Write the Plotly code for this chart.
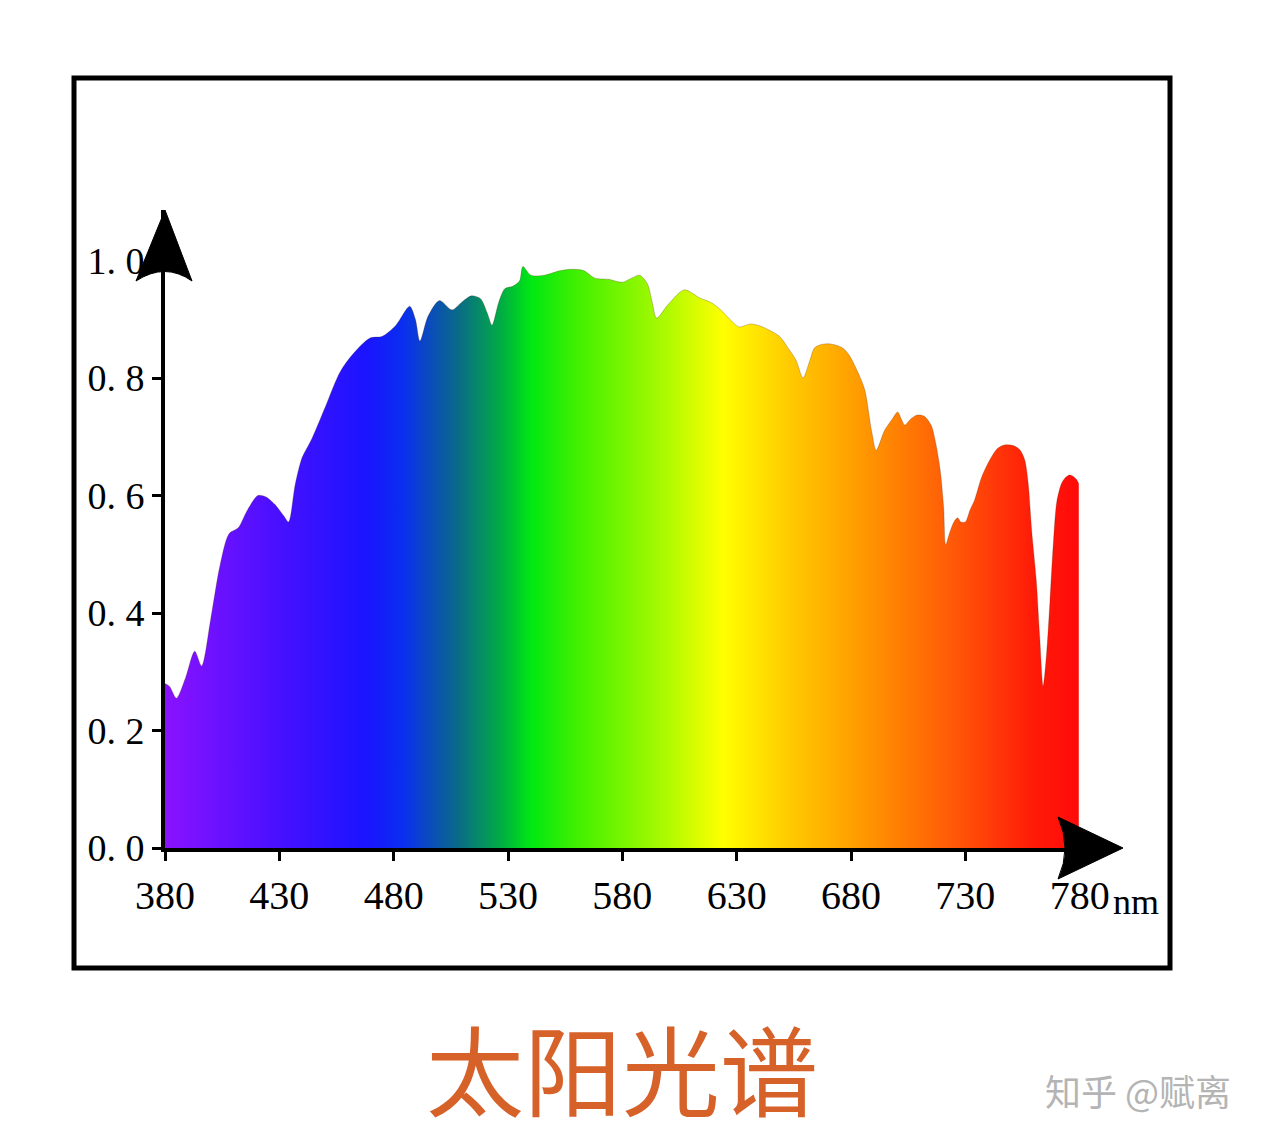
import plotly.graph_objects as go

# solar spectrum, relative intensity
wavelength = [380, 382, 385, 389, 393, 396, 400, 404, 408, 412, 416, 420.6, 424, 428, 432, 434,
              437, 440, 444, 450, 456.5, 462, 469.6, 475, 481, 487, 489.5, 491.5, 495, 500,
              505.5, 510, 514, 518, 521, 523, 526, 528.6, 532, 535, 536.5, 540, 546, 552,
              557, 563, 568, 574, 580, 584, 587.6, 591, 593, 595, 600, 607, 614, 619, 623,
              627, 631, 636, 640, 645, 649, 653, 656, 659, 662, 664, 667, 671, 676, 679, 683,
              686, 689, 691, 694.7, 698, 700.4, 702, 703.5, 706, 709, 712, 715, 717, 719,
              720.5, 721.4, 723, 725, 726.6, 728, 730, 732, 734, 737, 740.6, 744, 747, 751,
              754, 756, 757.5, 759, 761, 762.5, 764, 765.5, 767, 768.5, 770, 772, 773.6,
              775.5, 777, 778.5, 779.6]
intensity = [0.28, 0.275, 0.255, 0.29, 0.335, 0.31, 0.39, 0.48, 0.535, 0.545, 0.575, 0.6,
             0.598, 0.585, 0.565, 0.555, 0.62, 0.665, 0.695, 0.75, 0.81, 0.84, 0.868,
             0.871, 0.89, 0.922, 0.9, 0.863, 0.905, 0.932, 0.916, 0.93, 0.94, 0.935, 0.91,
             0.89, 0.93, 0.952, 0.956, 0.965, 0.99, 0.975, 0.975, 0.982, 0.985, 0.983,
             0.97, 0.968, 0.963, 0.97, 0.975, 0.96, 0.93, 0.902, 0.925, 0.95, 0.936, 0.928,
             0.916, 0.9, 0.887, 0.892, 0.889, 0.88, 0.87, 0.848, 0.83, 0.8, 0.83, 0.851,
             0.857, 0.858, 0.852, 0.84, 0.81, 0.78, 0.71, 0.677, 0.711, 0.73, 0.742, 0.73,
             0.72, 0.73, 0.737, 0.735, 0.72, 0.69, 0.643, 0.58, 0.516, 0.535, 0.555, 0.562,
             0.555, 0.555, 0.575, 0.592, 0.63, 0.66, 0.68, 0.686, 0.685, 0.677, 0.66, 0.62,
             0.54, 0.456, 0.36, 0.276, 0.33, 0.42, 0.52, 0.59, 0.62, 0.63, 0.635, 0.633,
             0.628, 0.62]

x_ticks = [380, 430, 480, 530, 580, 630, 680, 730, 780]
y_ticks = [0.0, 0.2, 0.4, 0.6, 0.8, 1.0]
y_ticktext = ["0. 0", "0. 2", "0. 4", "0. 6", "0. 8", "1. 0"]

rainbow = [[0.00, "#8a12ff"], [0.12, "#4a10ff"], [0.22, "#1a14ff"], [0.26, "#0a2ef0"],
           [0.32, "#0a6a88"], [0.37, "#00b040"], [0.40, "#00e812"], [0.45, "#40f000"],
           [0.55, "#b0fa00"], [0.61, "#ffff00"], [0.68, "#ffcc00"], [0.76, "#ff9a00"],
           [0.86, "#ff5a08"], [0.95, "#ff1a08"], [1.00, "#ff0a0a"]]

fig = go.Figure()
fig.add_trace(go.Scatter(
    x=wavelength, y=intensity, mode="lines",
    line=dict(shape="spline", smoothing=0.8, width=1, color="rgba(80,30,0,0.25)"),
    fill="tozeroy",
    fillgradient=dict(type="horizontal", colorscale=rainbow, start=380, stop=780),
    hoverinfo="skip", showlegend=False,
))

font_serif = "Liberation Serif"

fig.update_xaxes(
    range=[380, 795], showgrid=False, zeroline=False,
    showline=True, linecolor="black", linewidth=4,
    ticks="outside", ticklen=9, tickwidth=3, tickcolor="black",
    tickvals=x_ticks, ticktext=[str(v) for v in x_ticks],
    tickfont=dict(family=font_serif, size=40, color="black"),
)
fig.update_yaxes(
    range=[0, 1.086], showgrid=False, zeroline=False,
    showline=True, linecolor="black", linewidth=4,
    ticks="outside", ticklen=9, tickwidth=3, tickcolor="black",
    tickvals=y_ticks, ticktext=y_ticktext,
    tickfont=dict(family=font_serif, size=38, color="black"),
)

# the page adds an 8px body margin, so work in picture pixels minus that
OFF = 8
W, H = 1269 - OFF, 1143 - OFF
L, R, T, B = 165 - OFF, 155, 210 - OFF, 295
pw, ph = W - L - R, H - T - B


def px(xp):
    return (xp - OFF - L) / pw


def py(yp):
    return (H - B - (yp - OFF)) / ph


y_arrow = (f"M {px(165)},{py(210)} L {px(192)},{py(281)} "
           f"Q {px(165)},{py(262)} {px(136)},{py(281)} Z")
x_arrow = (f"M {px(1123)},{py(848)} L {px(1058)},{py(879)} "
           f"Q {px(1072)},{py(848)} {px(1058)},{py(817)} Z")
shapes = [
    dict(type="rect", xref="paper", yref="paper",
         x0=px(74), x1=px(1170), y0=py(78), y1=py(968),
         line=dict(color="black", width=5), fillcolor="rgba(0,0,0,0)"),
    dict(type="path", xref="paper", yref="paper", path=y_arrow,
         fillcolor="black", line=dict(color="black", width=1)),
    dict(type="path", xref="paper", yref="paper", path=x_arrow,
         fillcolor="black", line=dict(color="black", width=1)),
]

annotations = [
    dict(text="nm", xref="paper", yref="paper", x=px(1111), y=py(902),
         xanchor="left", yanchor="middle", showarrow=False,
         font=dict(family=font_serif, size=36, color="black")),
    dict(text="太阳光谱", xref="paper", yref="paper", x=px(622), y=py(1066),
         xanchor="center", yanchor="middle", showarrow=False,
         font=dict(family="Noto Sans CJK SC", size=98, color="#d6622a")),
    dict(text="知乎 @赋离", xref="paper", yref="paper", x=px(1138), y=py(1090),
         xanchor="center", yanchor="middle", showarrow=False,
         font=dict(family="Noto Sans CJK SC", size=36, color="#b4b4b4")),
]

fig.update_layout(
    width=W, height=H,
    margin=dict(l=L, r=R, t=T, b=B, pad=0),
    plot_bgcolor="white", paper_bgcolor="white",
    shapes=shapes, annotations=annotations,
)

fig.write_html("out.html")
